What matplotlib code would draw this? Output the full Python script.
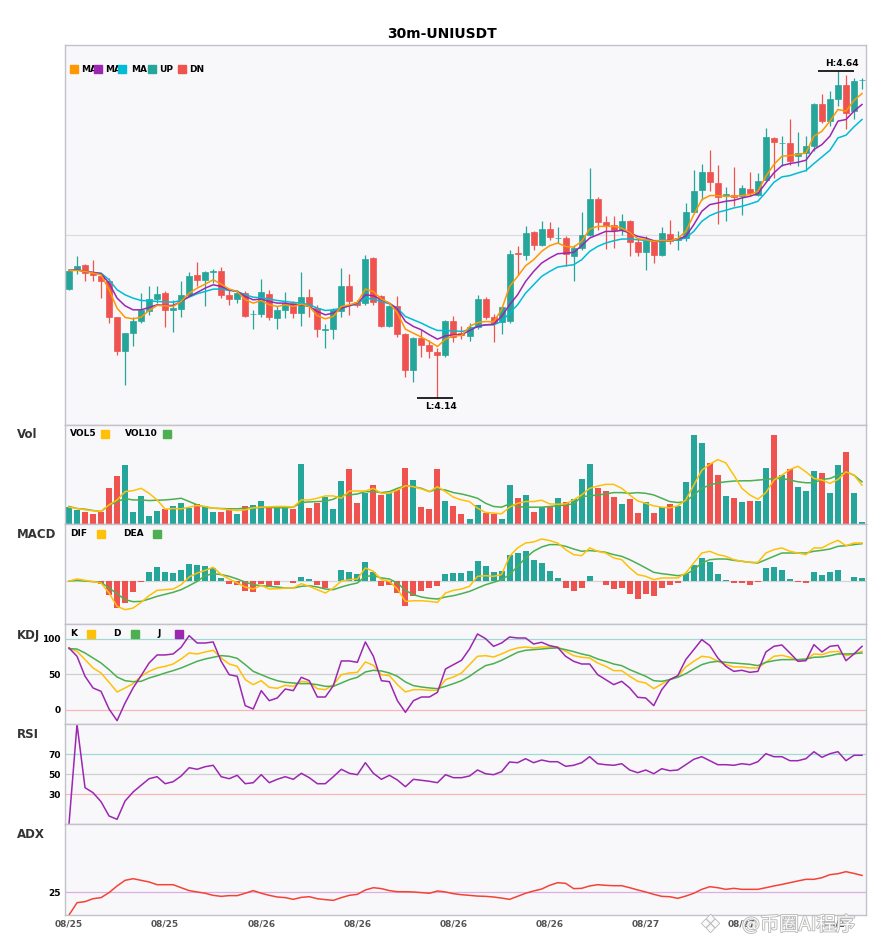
import matplotlib
matplotlib.use("Agg")
import matplotlib.pyplot as plt
import matplotlib.patheffects as pe
from matplotlib.patches import Rectangle
import numpy as np

plt.rcParams['font.family'] = ['DejaVu Sans']

# ---- candles (30m UNIUSDT) ----
open_ = [4.3070, 4.3361, 4.3438, 4.3310, 4.3259, 4.3183, 4.2636, 4.2125, 4.2401, 4.2580,
         4.2723, 4.2912, 4.3004, 4.2738, 4.2764, 4.2978, 4.3285, 4.3198, 4.3331, 4.3346,
         4.2978, 4.2917, 4.3004, 4.2677, 4.2687, 4.2994, 4.2621, 4.2748, 4.2850, 4.2707,
         4.2943, 4.2774, 4.2447, 4.2462, 4.2723, 4.3116, 4.2861, 4.2851, 4.3540, 4.2953,
         4.2503, 4.2810, 4.2376, 4.1829, 4.2314, 4.2212, 4.2110, 4.2059, 4.2570, 4.2401,
         4.2350, 4.2493, 4.2916, 4.2646, 4.2569, 4.2580, 4.3611, 4.3591, 4.3933, 4.3734,
         4.3984, 4.3841, 4.3846, 4.3575, 4.3693, 4.3897, 4.4449, 4.4091, 4.4050, 4.3964,
         4.4113, 4.3780, 4.3627, 4.3806, 4.3592, 4.3913, 4.3821, 4.3847, 4.4240, 4.4577,
         4.4853, 4.4690, 4.4496, 4.4511, 4.4485, 4.4603, 4.4511, 4.4741, 4.5379, 4.5298,
         4.5303, 4.5109, 4.5150, 4.5252, 4.5890, 4.5635, 4.5967, 4.6181, 4.5788, 4.6258]
high = [4.3377, 4.3566, 4.3448, 4.3515, 4.3285, 4.3234, 4.2646, 4.2401, 4.2646, 4.3004,
        4.3116, 4.3116, 4.3030, 4.2902, 4.3183, 4.3320, 4.3474, 4.3336, 4.3371, 4.3402,
        4.3055, 4.3055, 4.3030, 4.2738, 4.3218, 4.3055, 4.2800, 4.3014, 4.2876, 4.3325,
        4.3065, 4.2825, 4.2529, 4.2774, 4.3387, 4.3300, 4.2902, 4.3591, 4.3555, 4.2978,
        4.2825, 4.2953, 4.2391, 4.2330, 4.2442, 4.2289, 4.2161, 4.2595, 4.2657, 4.2508,
        4.2544, 4.2978, 4.2942, 4.2687, 4.2809, 4.3667, 4.3729, 4.4035, 4.3948, 4.4112,
        4.4086, 4.4015, 4.3872, 4.3744, 4.4245, 4.4920, 4.4474, 4.4188, 4.4178, 4.4214,
        4.4128, 4.3832, 4.3872, 4.3822, 4.4015, 4.4128, 4.3949, 4.4383, 4.4884, 4.4986,
        4.5200, 4.4971, 4.4623, 4.4930, 4.4654, 4.4853, 4.4843, 4.5532, 4.5395, 4.5405,
        4.5675, 4.5471, 4.5405, 4.5916, 4.6043, 4.6094, 4.6400, 4.6334, 4.6299, 4.6299]
low = [4.3055, 4.3295, 4.3183, 4.3183, 4.2927, 4.2554, 4.2059, 4.1599, 4.2197, 4.2544,
       4.2672, 4.2851, 4.2493, 4.2416, 4.2636, 4.2953, 4.3106, 4.2810, 4.3157, 4.2927,
       4.2825, 4.2851, 4.2646, 4.2452, 4.2646, 4.2595, 4.2452, 4.2621, 4.2621, 4.2503,
       4.2646, 4.2329, 4.2161, 4.2299, 4.2646, 4.2672, 4.2789, 4.2825, 4.2825, 4.2478,
       4.2483, 4.2330, 4.1727, 4.1650, 4.2034, 4.2008, 4.1400, 4.2034, 4.2263, 4.2298,
       4.2278, 4.2452, 4.2605, 4.2263, 4.2375, 4.2554, 4.3284, 4.3514, 4.3657, 4.3718,
       4.3810, 4.3770, 4.3422, 4.3182, 4.3667, 4.3872, 4.3974, 4.3683, 4.3693, 4.3897,
       4.3566, 4.3566, 4.3362, 4.3464, 4.3576, 4.3760, 4.3658, 4.3796, 4.4230, 4.4434,
       4.4562, 4.4061, 4.4102, 4.4332, 4.4205, 4.4485, 4.4485, 4.4715, 4.4766, 4.4945,
       4.4971, 4.4945, 4.4868, 4.5175, 4.5609, 4.5558, 4.5864, 4.5517, 4.5670, 4.6130]
close = [4.3346, 4.3423, 4.3310, 4.3280, 4.3183, 4.2646, 4.2125, 4.2391, 4.2580, 4.2738,
         4.2912, 4.2994, 4.2748, 4.2774, 4.2978, 4.3270, 4.3198, 4.3320, 4.3341, 4.2978,
         4.2917, 4.3004, 4.2656, 4.2687, 4.3014, 4.2631, 4.2748, 4.2860, 4.2697, 4.2943,
         4.2800, 4.2462, 4.2457, 4.2738, 4.3116, 4.2876, 4.2820, 4.3530, 4.2861, 4.2503,
         4.2810, 4.2376, 4.1829, 4.2314, 4.2212, 4.2125, 4.2059, 4.2570, 4.2340, 4.2360,
         4.2493, 4.2916, 4.2636, 4.2554, 4.2799, 4.3606, 4.3596, 4.3923, 4.3734, 4.3984,
         4.3861, 4.3851, 4.3606, 4.3693, 4.3897, 4.4449, 4.4086, 4.4035, 4.3964, 4.4112,
         4.3780, 4.3627, 4.3837, 4.3592, 4.3924, 4.3796, 4.3847, 4.4240, 4.4572, 4.4863,
         4.4700, 4.4475, 4.4526, 4.4475, 4.4613, 4.4536, 4.4725, 4.5395, 4.5313, 4.5308,
         4.5022, 4.5150, 4.5252, 4.5890, 4.5635, 4.5967, 4.6181, 4.5762, 4.6248, 4.6268]

ma_fast = [4.3351, 4.3351, 4.3336, 4.3310, 4.3285, 4.3055, 4.2774, 4.2631, 4.2610, 4.2636,
           4.2738, 4.2815, 4.2810, 4.2800, 4.2876, 4.3004, 4.3080, 4.3142, 4.3208, 4.3142,
           4.3065, 4.3029, 4.2902, 4.2851, 4.2891, 4.2825, 4.2800, 4.2825, 4.2800, 4.2835,
           4.2800, 4.2657, 4.2611, 4.2646, 4.2800, 4.2825, 4.2861, 4.3065, 4.3029, 4.2912,
           4.2851, 4.2698, 4.2452, 4.2391, 4.2330, 4.2263, 4.2187, 4.2299, 4.2350, 4.2355,
           4.2493, 4.2554, 4.2569, 4.2564, 4.2748, 4.3106, 4.3259, 4.3422, 4.3514, 4.3642,
           4.3729, 4.3770, 4.3718, 4.3708, 4.3795, 4.3984, 4.4025, 4.4025, 4.4025, 4.3999,
           4.3934, 4.3837, 4.3821, 4.3796, 4.3811, 4.3806, 4.3837, 4.3949, 4.4204, 4.4434,
           4.4496, 4.4496, 4.4485, 4.4485, 4.4496, 4.4511, 4.4562, 4.4792, 4.4971, 4.5098,
           4.5109, 4.5124, 4.5149, 4.5405, 4.5481, 4.5635, 4.5813, 4.5788, 4.5951, 4.6059]
ma_mid = [4.3351, 4.3361, 4.3336, 4.3320, 4.3300, 4.3157, 4.2927, 4.2810, 4.2748, 4.2748,
          4.2784, 4.2825, 4.2815, 4.2815, 4.2876, 4.2953, 4.3014, 4.3080, 4.3131, 4.3106,
          4.3055, 4.3029, 4.2953, 4.2902, 4.2912, 4.2876, 4.2851, 4.2851, 4.2825, 4.2825,
          4.2800, 4.2723, 4.2672, 4.2698, 4.2774, 4.2810, 4.2851, 4.2978, 4.2963, 4.2902,
          4.2851, 4.2759, 4.2570, 4.2493, 4.2442, 4.2366, 4.2299, 4.2350, 4.2366, 4.2366,
          4.2431, 4.2493, 4.2518, 4.2528, 4.2646, 4.2825, 4.2978, 4.3182, 4.3335, 4.3463,
          4.3540, 4.3606, 4.3616, 4.3627, 4.3729, 4.3846, 4.3897, 4.3948, 4.3948, 4.3964,
          4.3924, 4.3872, 4.3847, 4.3806, 4.3806, 4.3811, 4.3831, 4.3872, 4.4051, 4.4256,
          4.4358, 4.4383, 4.4409, 4.4424, 4.4460, 4.4485, 4.4526, 4.4690, 4.4843, 4.4955,
          4.4986, 4.5006, 4.5037, 4.5201, 4.5277, 4.5405, 4.5635, 4.5660, 4.5788, 4.5890]
ma_slow = [4.3351, 4.3361, 4.3336, 4.3320, 4.3310, 4.3208, 4.3055, 4.2978, 4.2927, 4.2891,
           4.2886, 4.2876, 4.2871, 4.2866, 4.2891, 4.2942, 4.2994, 4.3029, 4.3065, 4.3065,
           4.3045, 4.3029, 4.2978, 4.2942, 4.2932, 4.2912, 4.2891, 4.2876, 4.2861, 4.2851,
           4.2825, 4.2774, 4.2738, 4.2749, 4.2774, 4.2810, 4.2841, 4.2927, 4.2912, 4.2876,
           4.2841, 4.2774, 4.2646, 4.2595, 4.2544, 4.2483, 4.2432, 4.2432, 4.2427, 4.2417,
           4.2442, 4.2503, 4.2518, 4.2518, 4.2569, 4.2697, 4.2825, 4.3003, 4.3131, 4.3259,
           4.3335, 4.3402, 4.3422, 4.3438, 4.3514, 4.3642, 4.3718, 4.3770, 4.3805, 4.3831,
           4.3832, 4.3821, 4.3811, 4.3796, 4.3796, 4.3806, 4.3821, 4.3847, 4.3949, 4.4102,
           4.4189, 4.4240, 4.4271, 4.4307, 4.4332, 4.4368, 4.4409, 4.4547, 4.4700, 4.4782,
           4.4802, 4.4843, 4.4879, 4.4986, 4.5088, 4.5190, 4.5379, 4.5420, 4.5548, 4.5660]

# ---- volume ----
vol = [18.8, 15.1, 13.7, 11.4, 12.9, 40.2, 53.5, 65.7, 13.7, 31.4,
       9.2, 14.8, 16.6, 20.3, 23.6, 18.1, 22.5, 20.3, 13.7, 13.7,
       16.6, 11.4, 20.3, 21.4, 25.8, 18.8, 18.1, 18.1, 17.3, 66.8,
       18.1, 24.0, 29.9, 17.3, 48.0, 62.0, 24.0, 35.1, 43.5, 32.8,
       35.1, 38.0, 63.1, 49.1, 18.8, 17.0, 62.0, 26.2, 20.3, 11.4,
       5.9, 21.4, 12.5, 11.4, 5.9, 43.5, 29.2, 32.5, 13.7, 19.2,
       19.2, 29.2, 24.7, 28.0, 50.2, 66.8, 40.2, 36.9, 30.3, 22.5,
       28.0, 12.5, 24.7, 12.5, 19.2, 22.5, 20.3, 46.9, 100.0, 91.1,
       67.9, 54.6, 31.4, 29.2, 24.7, 25.8, 25.8, 62.4, 100.0, 54.6,
       61.3, 41.3, 36.9, 59.0, 56.8, 34.7, 65.7, 80.1, 34.7, 2.6]
vol5 = [18.8, 17.3, 15.9, 14.8, 14.0, 21.4, 26.9, 36.2, 37.3, 39.9,
        34.3, 26.9, 16.6, 17.3, 17.0, 18.8, 20.7, 19.6, 17.7, 17.0,
        15.9, 15.1, 15.9, 18.1, 18.8, 19.2, 19.6, 19.6, 18.8, 26.9,
        26.9, 28.8, 31.4, 31.4, 28.8, 36.9, 36.9, 36.9, 39.9, 34.3,
        34.3, 38.0, 42.8, 41.7, 39.1, 36.2, 41.7, 36.2, 29.9, 26.9,
        25.1, 17.7, 12.9, 12.2, 11.4, 18.8, 23.2, 25.1, 25.1, 26.6,
        22.5, 22.1, 22.5, 26.9, 32.5, 39.9, 42.4, 44.3, 44.3, 39.9,
        32.5, 25.8, 23.2, 20.3, 18.8, 18.1, 20.3, 26.9, 43.5, 60.1,
        66.8, 72.0, 68.3, 54.6, 39.9, 32.5, 27.7, 35.1, 49.1, 54.6,
        60.9, 64.6, 58.3, 50.9, 49.1, 45.4, 49.8, 58.3, 54.6, 43.5]
vol10 = [19.6, 17.3, 16.6, 15.1, 14.0, 21.0, 25.1, 28.4, 26.9, 26.9,
         26.2, 26.6, 26.9, 27.7, 28.8, 25.1, 21.4, 18.8, 17.7, 17.3,
         17.0, 17.0, 17.7, 18.1, 18.5, 18.5, 18.1, 18.1, 18.8, 24.0,
         24.7, 25.1, 25.5, 27.7, 32.5, 32.5, 33.6, 36.2, 36.2, 35.1,
         36.2, 39.9, 42.8, 41.7, 39.9, 36.2, 39.1, 38.0, 35.1, 33.6,
         31.4, 28.8, 23.2, 19.6, 18.8, 22.5, 19.6, 18.8, 18.8, 18.8,
         19.6, 20.3, 21.4, 22.5, 30.6, 31.4, 32.5, 33.6, 35.1, 35.1,
         34.3, 35.1, 34.3, 32.5, 28.8, 25.1, 24.0, 25.1, 32.5, 39.9,
         43.5, 46.1, 47.2, 48.0, 48.3, 48.3, 49.1, 49.8, 50.9, 50.9,
         49.1, 47.2, 46.1, 46.1, 49.8, 50.9, 54.6, 58.3, 54.6, 47.2]

# ---- MACD ----
dif = [0.0000, 0.0015, 0.0005, -0.0005, -0.0015, -0.0090, -0.0190, -0.0215, -0.0203, -0.0160,
       -0.0110, -0.0070, -0.0065, -0.0060, -0.0028, 0.0030, 0.0060, 0.0080, 0.0103, 0.0048,
       0.0015, -0.0015, -0.0045, -0.0060, -0.0033, -0.0060, -0.0058, -0.0053, -0.0053, -0.0020,
       -0.0040, -0.0065, -0.0090, -0.0053, 0.0000, 0.0010, 0.0015, 0.0098, 0.0073, 0.0010,
       -0.0003, -0.0060, -0.0153, -0.0148, -0.0148, -0.0153, -0.0160, -0.0090, -0.0070, -0.0060,
       -0.0040, 0.0035, 0.0040, 0.0035, 0.0048, 0.0185, 0.0248, 0.0285, 0.0293, 0.0315,
       0.0303, 0.0285, 0.0235, 0.0198, 0.0190, 0.0248, 0.0223, 0.0210, 0.0173, 0.0160,
       0.0098, 0.0048, 0.0035, 0.0010, 0.0023, 0.0023, 0.0023, 0.0060, 0.0135, 0.0210,
       0.0223, 0.0198, 0.0185, 0.0160, 0.0148, 0.0140, 0.0140, 0.0210, 0.0235, 0.0248,
       0.0223, 0.0210, 0.0198, 0.0248, 0.0248, 0.0280, 0.0305, 0.0265, 0.0285, 0.0285]
dea = [0.0000, 0.0005, 0.0000, -0.0005, -0.0010, -0.0053, -0.0095, -0.0140, -0.0155, -0.0153,
       -0.0135, -0.0115, -0.0100, -0.0085, -0.0065, -0.0035, -0.0003, 0.0040, 0.0055, 0.0048,
       0.0035, 0.0015, -0.0008, -0.0028, -0.0035, -0.0040, -0.0045, -0.0053, -0.0053, -0.0040,
       -0.0035, -0.0045, -0.0060, -0.0065, -0.0045, -0.0028, -0.0015, 0.0035, 0.0040, 0.0023,
       0.0015, -0.0015, -0.0070, -0.0103, -0.0120, -0.0130, -0.0135, -0.0120, -0.0110, -0.0095,
       -0.0078, -0.0053, -0.0028, -0.0010, 0.0010, 0.0048, 0.0110, 0.0173, 0.0223, 0.0255,
       0.0273, 0.0273, 0.0260, 0.0240, 0.0223, 0.0228, 0.0223, 0.0215, 0.0198, 0.0185,
       0.0160, 0.0130, 0.0098, 0.0065, 0.0055, 0.0048, 0.0040, 0.0048, 0.0085, 0.0135,
       0.0160, 0.0165, 0.0165, 0.0155, 0.0148, 0.0140, 0.0135, 0.0160, 0.0185, 0.0210,
       0.0210, 0.0210, 0.0210, 0.0223, 0.0230, 0.0240, 0.0260, 0.0265, 0.0273, 0.0280]
macd_hist = [0.0000, 0.0005, 0.0000, -0.0005, -0.0023, -0.0108, -0.0205, -0.0168, -0.0085, -0.0005,
             0.0070, 0.0108, 0.0070, 0.0063, 0.0085, 0.0130, 0.0123, 0.0115, 0.0100, 0.0025,
             -0.0025, -0.0033, -0.0078, -0.0085, -0.0023, -0.0038, -0.0033, 0.0000, -0.0015, 0.0033,
             0.0015, -0.0030, -0.0050, 0.0000, 0.0085, 0.0070, 0.0055, 0.0145, 0.0070, -0.0040,
             -0.0033, -0.0093, -0.0190, -0.0115, -0.0078, -0.0055, -0.0040, 0.0055, 0.0063, 0.0063,
             0.0078, 0.0153, 0.0115, 0.0070, 0.0078, 0.0198, 0.0213, 0.0228, 0.0160, 0.0138,
             0.0078, 0.0025, -0.0055, -0.0078, -0.0055, 0.0040, 0.0000, -0.0033, -0.0063, -0.0055,
             -0.0100, -0.0138, -0.0100, -0.0115, -0.0055, -0.0033, -0.0018, 0.0055, 0.0123, 0.0175,
             0.0140, 0.0055, 0.0010, -0.0018, -0.0018, -0.0033, -0.0010, 0.0100, 0.0108, 0.0085,
             0.0018, -0.0010, -0.0018, 0.0070, 0.0048, 0.0070, 0.0085, 0.0000, 0.0033, 0.0025]

# ---- KDJ ----
k_line = [87.3, 82.5, 70.8, 59.0, 51.9, 38.7, 25.0, 30.7, 36.8, 47.2,
          54.2, 59.0, 61.3, 64.6, 71.7, 80.2, 78.8, 81.6, 84.0, 73.1,
          64.6, 61.3, 42.5, 35.4, 41.0, 31.6, 30.2, 34.4, 33.0, 40.1,
          38.7, 29.7, 28.3, 35.4, 49.5, 51.9, 52.8, 67.5, 62.7, 49.5,
          48.1, 35.4, 25.0, 28.3, 28.3, 27.4, 27.4, 42.5, 46.2, 51.9,
          63.7, 75.5, 76.4, 74.5, 78.8, 84.0, 87.3, 88.7, 87.3, 88.7,
          88.7, 88.7, 82.5, 76.4, 74.1, 73.1, 66.0, 61.3, 55.2, 55.2,
          47.2, 40.1, 37.7, 29.7, 36.3, 42.5, 47.2, 60.4, 68.4, 75.5,
          74.1, 68.4, 63.7, 60.4, 60.4, 59.0, 59.0, 67.0, 75.5, 76.9,
          74.1, 69.3, 70.8, 78.8, 77.8, 81.6, 82.5, 76.4, 78.8, 82.5]
d_line = [86.3, 85.8, 80.2, 73.1, 66.0, 56.6, 46.2, 41.0, 39.6, 40.1,
          44.8, 48.1, 51.9, 55.2, 59.0, 63.7, 68.4, 71.7, 74.1, 76.4,
          75.5, 72.6, 63.7, 54.2, 49.5, 44.8, 41.0, 38.7, 37.7, 36.8,
          36.8, 35.4, 33.0, 33.0, 37.7, 42.5, 45.8, 53.3, 55.7, 54.7,
          51.9, 47.2, 39.2, 34.0, 32.1, 30.7, 29.7, 33.0, 36.8, 41.0,
          47.2, 55.2, 62.3, 65.1, 69.8, 75.5, 81.1, 84.0, 84.9, 85.8,
          86.8, 87.3, 84.9, 82.1, 78.8, 76.4, 71.7, 68.4, 64.6, 62.3,
          56.6, 51.9, 47.2, 41.0, 40.1, 42.5, 45.8, 50.9, 57.5, 63.7,
          67.0, 68.4, 67.0, 66.0, 65.1, 64.2, 62.3, 67.0, 69.3, 70.8,
          70.8, 70.8, 71.7, 74.1, 74.5, 76.4, 78.8, 78.8, 79.2, 80.2]
j_line = [87.3, 75.5, 47.2, 30.7, 25.9, 0.9, -15.6, 9.4, 30.7, 48.1,
          66.0, 77.4, 77.4, 78.8, 88.2, 104.7, 94.3, 94.3, 95.8, 68.4,
          49.5, 47.2, 5.7, 0.9, 26.9, 12.7, 16.5, 29.2, 26.9, 45.8,
          41.0, 17.9, 17.9, 34.0, 68.9, 68.9, 67.0, 95.8, 75.5, 41.0,
          39.6, 12.7, -3.8, 12.7, 17.9, 17.9, 24.5, 57.5, 63.7, 69.8,
          85.8, 107.1, 100.5, 89.6, 94.3, 102.8, 101.4, 101.4, 92.9, 95.3,
          90.6, 88.2, 75.5, 68.4, 64.6, 64.6, 49.5, 42.5, 35.4, 40.1,
          30.7, 17.5, 16.5, 5.7, 28.3, 42.5, 48.1, 70.8, 84.9, 99.1,
          90.6, 73.1, 61.3, 54.2, 55.7, 52.8, 54.2, 81.6, 89.6, 91.5,
          80.2, 68.4, 69.3, 92.0, 81.6, 89.6, 91.0, 69.3, 78.8, 89.6]

# ---- RSI ----
rsi = [0.0, 99.7, 36.3, 31.3, 22.3, 8.0, 4.7, 23.0, 32.0, 38.7,
       45.3, 47.3, 40.3, 42.3, 48.0, 56.3, 54.7, 57.3, 58.7, 47.3,
       45.3, 48.7, 40.3, 41.3, 49.3, 41.3, 44.7, 47.3, 44.7, 50.7,
       46.3, 40.3, 40.3, 47.3, 54.7, 50.7, 49.3, 61.3, 50.7, 44.7,
       48.7, 44.0, 37.3, 44.7, 43.7, 42.7, 41.3, 49.3, 46.3, 46.3,
       48.0, 54.0, 50.3, 49.3, 52.3, 62.0, 61.3, 65.3, 61.3, 64.0,
       62.3, 62.3, 57.7, 58.7, 61.3, 67.3, 60.3, 59.3, 58.7, 60.3,
       54.0, 51.3, 54.0, 50.3, 55.3, 53.3, 54.0, 59.3, 64.7, 67.3,
       63.3, 59.3, 59.3, 58.7, 60.3, 59.3, 62.3, 70.3, 67.3, 67.3,
       63.3, 63.3, 65.3, 72.3, 66.7, 70.3, 72.3, 63.3, 68.7, 68.7]

# ---- ADX ----
adx = [0.0, 13.5, 14.7, 17.9, 19.1, 24.6, 31.9, 38.1, 39.9, 38.1,
       36.3, 33.3, 33.3, 33.3, 30.0, 26.8, 25.3, 23.9, 21.6, 20.5,
       21.3, 21.3, 23.9, 26.8, 23.9, 21.6, 19.8, 19.1, 17.2, 19.4,
       20.1, 17.9, 16.9, 16.1, 19.1, 21.6, 22.7, 27.5, 30.0, 29.0,
       26.8, 25.6, 25.6, 25.3, 24.6, 23.9, 26.4, 25.3, 23.4, 22.3,
       21.6, 20.8, 20.5, 19.8, 18.6, 17.2, 20.5, 23.9, 26.4, 28.5,
       32.6, 35.5, 34.8, 29.0, 29.3, 31.9, 33.3, 32.6, 32.2, 32.2,
       30.0, 27.5, 25.3, 22.7, 20.5, 20.1, 18.3, 20.8, 23.9, 28.2,
       31.1, 30.0, 28.2, 29.3, 28.2, 28.2, 28.2, 30.0, 31.9, 33.6,
       35.5, 37.4, 39.2, 39.2, 41.0, 44.3, 45.4, 47.6, 45.7, 43.5]

tick_pos = [0, 12, 24, 36, 48, 60, 72, 84, 96]
tick_labels = ['08/25', '08/25', '08/26', '08/26', '08/26', '08/26', '08/27', '08/27', '08/27']

UP = '#26a69a'
DN = '#ef5350'
BG = '#f8f8fa'
SPINE = '#c2c2ca'

W, H = 885, 950
fig = plt.figure(figsize=(W / 100, H / 100), dpi=100)


def panel(top, bottom, share=None):
    ax = fig.add_axes([65 / W, 1 - bottom / H, 801 / W, (bottom - top) / H], sharex=share)
    ax.set_facecolor(BG)
    for s in ax.spines.values():
        s.set_color(SPINE)
        s.set_linewidth(1.0)
    ax.tick_params(length=0, labelbottom=False, labelleft=False)
    return ax


def fig_text(x, y, s, size=6.5, **kw):
    fig.text(x / W, 1 - y / H, s, va='center', ha='left', fontsize=size,
             fontweight='bold', **kw)


def fig_square(x, y, color, size=8):
    fig.add_artist(Rectangle((x / W, 1 - (y + size / 2) / H), size / W, size / H,
                             transform=fig.transFigure, color=color, zorder=5))


x = np.arange(len(close))
o, h, l, c = map(np.array, (open_, high, low, close))
colors = np.where(c >= o, UP, DN)

# main price panel
ax = panel(45, 425)
ax.set_xlim(-0.5, len(x) - 0.5)
ax.set_ylim(4.0986, 4.68)
ax.axhline(sum(ax.get_ylim()) / 2, color='#dcdcdc', lw=0.9, zorder=0)
ax.vlines(x, l, h, colors=colors, lw=0.9, zorder=2)
ax.bar(x, np.abs(c - o), bottom=np.minimum(o, c), width=0.75, color=colors,
       edgecolor=colors, linewidth=0.5, zorder=3)
ax.plot(x, ma_slow, color='#00bcd4', lw=1.1, zorder=4)
ax.plot(x, ma_mid, color='#9c27b0', lw=1.1, zorder=4)
ax.plot(x, ma_fast, color='#ff9800', lw=1.1, zorder=4)

hi_i = int(np.argmax(h))
lo_i = int(np.argmin(l))
ax.hlines(h[hi_i], hi_i - 2.5, hi_i + 2, color='black', lw=1.2)
ax.annotate(f'H:{h[hi_i]:.2f}', xy=(hi_i + 0.5, h[hi_i]), xytext=(0, 2),
            textcoords='offset points', ha='center', va='bottom',
            fontsize=6.5, fontweight='bold')
ax.hlines(l[lo_i], lo_i - 2.5, lo_i + 2, color='black', lw=1.2)
ax.annotate(f'L:{l[lo_i]:.2f}', xy=(lo_i + 0.5, l[lo_i]), xytext=(0, -3),
            textcoords='offset points', ha='center', va='top',
            fontsize=6.5, fontweight='bold')

# volume
ax_v = panel(425, 524, ax)
ax_v.bar(x, vol, width=0.75, color=colors, linewidth=0)
ax_v.plot(x, vol10, color='#4caf50', lw=1.1)
ax_v.plot(x, vol5, color='#ffc107', lw=1.1)
ax_v.set_ylim(0, 110.7)

# MACD
ax_m = panel(524, 624, ax)
hist = np.array(macd_hist)
ax_m.axhline(0, color='#d4d4d4', lw=0.9, zorder=0)
ax_m.bar(x, hist, width=0.75, color=np.where(hist >= 0, UP, DN), linewidth=0)
ax_m.plot(x, dea, color='#4caf50', lw=1.1)
ax_m.plot(x, dif, color='#ffc107', lw=1.1)
ax_m.set_ylim(-0.03225, 0.04275)

# KDJ
ax_k = panel(624, 724, ax)
ax_k.axhline(100, color='#a3d9d3', lw=0.9, zorder=0)
ax_k.axhline(50, color='#cfcfcf', lw=0.9, zorder=0)
ax_k.axhline(0, color='#f5b7b7', lw=0.9, zorder=0)
ax_k.plot(x, k_line, color='#ffc107', lw=1.1)
ax_k.plot(x, d_line, color='#4caf50', lw=1.1)
ax_k.plot(x, j_line, color='#9c27b0', lw=1.1)
ax_k.set_ylim(-20.3, 121.2)
ax_k.set_yticks([0, 50, 100])
ax_k.set_yticklabels(['0', '50', '100'], fontsize=6.5, fontweight='bold')
ax_k.tick_params(labelleft=True, pad=3)

# RSI
ax_r = panel(724, 824, ax)
ax_r.axhline(70, color='#a3d9d3', lw=0.9, zorder=0)
ax_r.axhline(50, color='#cfcfcf', lw=0.9, zorder=0)
ax_r.axhline(30, color='#f5b7b7', lw=0.9, zorder=0)
ax_r.plot(x, rsi, color='#9c27b0', lw=1.1)
ax_r.set_ylim(0, 100)
ax_r.set_yticks([30, 50, 70])
ax_r.set_yticklabels(['30', '50', '70'], fontsize=6.5, fontweight='bold')
ax_r.tick_params(labelleft=True, pad=3)

# ADX
ax_a = panel(824, 915, ax)
ax_a.axhline(25, color='#dcaee3', lw=0.9, zorder=0)
ax_a.plot(x, adx, color='#f44336', lw=1.1)
ax_a.set_ylim(0, 100)
ax_a.set_yticks([25])
ax_a.set_yticklabels(['25'], fontsize=6.5, fontweight='bold')
ax_a.set_xticks(tick_pos)
ax_a.set_xticklabels(tick_labels, fontsize=6.5, fontweight='bold', color='#555555')
ax_a.tick_params(labelleft=True, labelbottom=True, pad=3)

# title and panel names
fig.text(0.5, 1 - 34 / H, '30m-UNIUSDT', ha='center', va='center',
         fontsize=10, fontweight='bold')
for name, yc in [('Vol', 434), ('MACD', 535), ('KDJ', 635), ('RSI', 735), ('ADX', 835)]:
    fig_text(17, yc, name, size=8.5, color='#333333')

# legends
fig_text(81, 69, 'MA')
fig_text(105, 69, 'MA')
fig_text(131, 69, 'MA')
fig_text(159, 69, 'UP')
fig_text(189, 69, 'DN')
for xs, col in [(70, '#ff9800'), (94, '#9c27b0'), (118, '#00bcd4'), (148, UP), (178, DN)]:
    fig_square(xs, 69, col)

fig_text(70, 434, 'VOL5')
fig_square(101, 434, '#ffc107')
fig_text(125, 434, 'VOL10')
fig_square(163, 434, '#4caf50')

fig_text(70, 534, 'DIF')
fig_square(97, 534, '#ffc107')
fig_text(123, 534, 'DEA')
fig_square(153, 534, '#4caf50')

fig_text(70, 634, 'K')
fig_square(87, 634, '#ffc107')
fig_text(113, 634, 'D')
fig_square(131, 634, '#4caf50')
fig_text(157, 634, 'J')
fig_square(175, 634, '#9c27b0')

# watermark (white glyphs with a light grey outline)
halo = [pe.withStroke(linewidth=1.2, foreground='#b8b8b8')]
fig.text(700 / W, 1 - 925 / H, '❖', fontsize=17, color='#fafafa',
         va='center', ha='left', path_effects=halo)
fig.text(742 / W, 1 - 925 / H, '@', fontsize=13, color='#fafafa',
         va='center', ha='left', path_effects=halo)
fig.text(760 / W, 1 - 925 / H, '币圈AI程序', fontsize=14, color='#fafafa',
         va='center', ha='left', path_effects=halo,
         family=['Noto Sans CJK SC', 'DejaVu Sans'])

fig.savefig('out.png', dpi=100)
